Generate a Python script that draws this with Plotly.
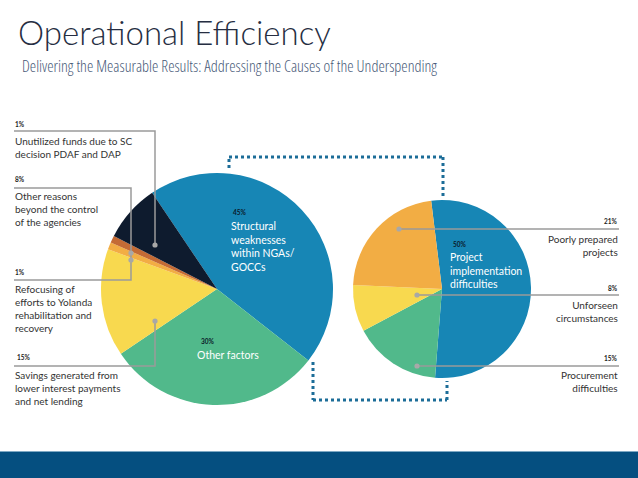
import plotly.graph_objects as go

W, H = 638, 478

# ---- data ----
main_labels = ["Structural weaknesses within NGAs/ GOCCs", "Other factors",
               "Savings generated from lower interest payments and net lending",
               "Refocusing of efforts to Yolanda rehabilitation and recovery",
               "Unutilized funds due to SC decision PDAF and DAP",
               "Other reasons beyond the control of the agencies"]
main_values = [45, 30, 15, 1, 1, 8]
main_colors = ["#1786b5", "#51b98b", "#f8d94f", "#f2ad44", "#c46b35", "#0e1b2e"]

sub_labels = ["Project implementation difficulties", "Procurement difficulties",
              "Unforseen circumstances", "Poorly prepared projects"]
sub_values = [50, 15, 8, 21]
sub_colors = ["#1786b5", "#51b98b", "#f8d94f", "#f2ad44"]


def px(x):
    return x / W


def py(y):
    return 1 - y / H


def dom(cx, cy, r):
    return dict(x=[px(cx - r), px(cx + r)], y=[py(cy + r), py(cy - r)])


fig = go.Figure()
fig.add_trace(go.Pie(labels=main_labels, values=main_values, sort=False,
                     direction="clockwise", rotation=-34,
                     marker=dict(colors=main_colors, line=dict(width=0)),
                     textinfo="none", hoverinfo="label+percent",
                     domain=dom(217, 289, 116), showlegend=False))
fig.add_trace(go.Pie(labels=sub_labels, values=sub_values, sort=False,
                     direction="clockwise", rotation=-7,
                     marker=dict(colors=sub_colors, line=dict(width=0)),
                     textinfo="none", hoverinfo="label+percent",
                     domain=dom(442, 289, 89), showlegend=False))

shapes = []
ann = []

# bottom bar
shapes.append(dict(type="rect", xref="paper", yref="paper", x0=0, x1=1,
                   y0=0, y1=py(451), fillcolor="#054f80", line=dict(width=0), layer="below"))
shapes.append(dict(type="line", xref="paper", yref="paper", x0=0, x1=1,
                   y0=py(451.5), y1=py(451.5), line=dict(color="#7fa9c4", width=1)))

# dotted connectors
dc = dict(color="#1c6d98", width=3, dash="dot")
for seg in [((229, 168), (229, 157)), ((229, 157), (443, 157)), ((443, 157), (443, 197)),
            ((313, 362), (313, 400)), ((313, 400), (447, 400)), ((447, 400), (447, 381))]:
    (x0, y0), (x1, y1) = seg
    shapes.append(dict(type="line", xref="paper", yref="paper", x0=px(x0), y0=py(y0),
                       x1=px(x1), y1=py(y1), line=dc))

# leader lines
lc = dict(color="#9a9a9a", width=1.5)
leaders = [
    [(14, 131), (155, 131), (155, 245)],
    [(14, 188), (131, 188), (131, 280), (14, 280)],
    [(14, 366), (155, 366), (155, 321)],
    [(619, 229), (399, 229)],
    [(619, 295), (417, 295)],
    [(619, 366), (417, 366)],
]
for pts in leaders:
    path = "M " + " L ".join(f"{px(x)},{py(y)}" for x, y in pts)
    shapes.append(dict(type="path", xref="paper", yref="paper", path=path, line=lc))

for (x, y) in [(155, 245), (131, 253), (131, 260), (155, 321), (399, 229), (417, 295), (417, 366)]:
    r = 2.6
    shapes.append(dict(type="circle", xref="paper", yref="paper", x0=px(x - r), x1=px(x + r),
                       y0=py(y + r), y1=py(y - r), fillcolor="#a8a8a8", line=dict(width=0)))

FONT = "Lato, 'Open Sans', sans-serif"


def text(x, y, s, size=10, color="#333333", anchor="left", bold=False):
    ann.append(dict(xref="paper", yref="paper", x=px(x), y=py(y), text=(f"<b>{s}</b>" if bold else s),
                    showarrow=False, xanchor=anchor, yanchor="top", align=anchor,
                    font=dict(family=FONT, size=size, color=color)))


# left labels
text(13, 119, "1%", 6.5, "#222222", bold=True)
text(13, 133, "Unutilized funds due to SC<br>decision PDAF and DAP", 10)
text(13, 174, "8%", 6.5, "#222222", bold=True)
text(13, 188, "Other reasons<br>beyond the control<br>of the agencies", 10)
text(13, 267, "1%", 6.5, "#222222", bold=True)
text(13, 281, "Refocusing of<br>efforts to Yolanda<br>rehabilitation and<br>recovery", 10)
text(15, 352, "15%", 6.5, "#222222", bold=True)
text(13, 367, "Savings generated from<br>lower interest payments<br>and net lending", 10)

# right labels
text(620, 216, "21%", 6.5, "#222222", "right", bold=True)
text(620, 231, "Poorly prepared<br>projects", 10, anchor="right")
text(620, 283, "8%", 6.5, "#222222", "right", bold=True)
text(620, 297, "Unforseen<br>circumstances", 10, anchor="right")
text(620, 353, "15%", 6.5, "#222222", "right", bold=True)
text(620, 367, "Procurement<br>difficulties", 10, anchor="right")

# in-pie labels
text(231, 207, "45%", 6.5, "#0b1a2a", bold=True)
text(229, 218, "Structural<br>weaknesses<br>within NGAs/<br>GOCCs", 10.5, "#ffffff")
text(199, 336, "30%", 6.5, "#0b1a2a", bold=True)
text(195, 347, "Other factors", 10.5, "#ffffff")
text(451, 239, "50%", 6.5, "#0b1a2a", bold=True)
text(448, 249, "Project<br>implementation<br>difficulties", 10.5, "#ffffff")

# title & subtitle
ann.append(dict(xref="paper", yref="paper", x=px(16), y=py(32), text="Operational Efficiency",
                showarrow=False, xanchor="left", yanchor="middle",
                font=dict(family="Lato, 'Open Sans', sans-serif", size=33, color="#262e42", weight=300)))
ann.append(dict(xref="paper", yref="paper", x=px(20), y=py(66),
                text=("<span style='font-stretch:condensed'>"
                      "Delivering the Measurable Results: Addressing the Causes of the Underspending"
                      "</span>"),
                showarrow=False, xanchor="left", yanchor="middle",
                font=dict(family="'Open Sans', sans-serif", size=16, color="#485a78", weight=300)))

fig.update_layout(width=W, height=H, margin=dict(l=0, r=0, t=0, b=0),
                  paper_bgcolor="white", plot_bgcolor="white",
                  shapes=shapes, annotations=ann, showlegend=False)

fig.write_html("out.html", config={"displayModeBar": False},
               post_script="document.body.style.margin='0';")
